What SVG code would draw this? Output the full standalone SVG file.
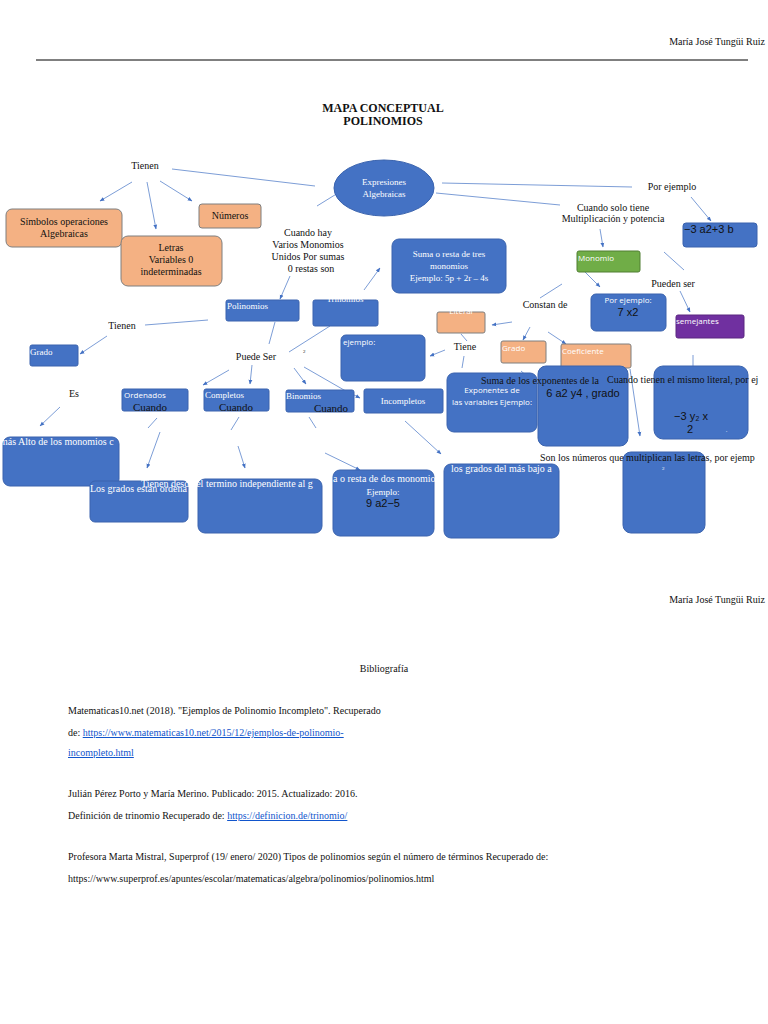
<svg xmlns="http://www.w3.org/2000/svg" width="768" height="1024" viewBox="0 0 768 1024">
<style>
text{font-family:"Liberation Serif",serif;font-size:10px;fill:#111}
.w{fill:#fff;font-size:9px}
.ws{fill:#fff;font-family:"Open Sans","DejaVu Sans",sans-serif;font-size:8px}
.k{font-family:"Liberation Sans",sans-serif;font-size:11px;fill:#111}
.t{font-weight:bold;font-size:12px}
.cu{font-size:11px}
.tiny{font-size:5px}
.b{fill:#4472C4;stroke:#3A63AE;stroke-width:1}
.o{fill:#F4B183;stroke:#7F7F7F;stroke-width:1}
.c line,.c path{stroke:#5B84CC;stroke-width:0.8;fill:none}
.a{marker-end:url(#ar)}
.lk{fill:#1155CC;text-decoration:underline}
.ov{fill:#fff;font-size:10px}
</style>
<defs><marker id="ar" viewBox="0 0 10 10" refX="9" refY="5" markerWidth="6" markerHeight="6" orient="auto"><path d="M0,1L10,5L0,9z" fill="#4472C4"/></marker></defs>
<rect width="768" height="1024" fill="#fff"/>
<text x="765" y="45" text-anchor="end">María José Tungüi Ruiz</text>
<line x1="36" y1="60" x2="748" y2="60" stroke="#000" stroke-width="1"/>
<text x="383" y="112" text-anchor="middle" class="t">MAPA CONCEPTUAL</text>
<text x="383" y="125" text-anchor="middle" class="t">POLINOMIOS</text>

<g class="c">
<line x1="172" y1="169" x2="315" y2="186"/>
<line x1="132" y1="182" x2="100" y2="201" class="a"/>
<line x1="147" y1="182" x2="156" y2="229" class="a"/>
<line x1="160" y1="181" x2="192" y2="201" class="a"/>
<line x1="338" y1="193" x2="317" y2="206"/>
<line x1="442" y1="183" x2="632" y2="187"/>
<line x1="436" y1="193" x2="560" y2="205"/>
<line x1="691" y1="197" x2="711" y2="221" class="a"/>
<line x1="600" y1="229" x2="603" y2="247" class="a"/>
<line x1="664" y1="252" x2="684" y2="270"/>
<line x1="680" y1="291" x2="690" y2="312" class="a"/>
<line x1="585" y1="272" x2="600" y2="287" class="a"/>
<line x1="562" y1="284" x2="540" y2="298"/>
<line x1="512" y1="322" x2="492" y2="325" class="a"/>
<line x1="530" y1="327" x2="523" y2="340" class="a"/>
<line x1="548" y1="332" x2="566" y2="344" class="a"/>
<line x1="461" y1="334" x2="467" y2="341"/>
<line x1="464" y1="356" x2="462" y2="368"/>
<line x1="445" y1="350" x2="430" y2="356" class="a"/>
<line x1="521" y1="371" x2="528" y2="377"/>
<line x1="630" y1="369" x2="640" y2="436" class="a"/>
<line x1="693" y1="355" x2="693" y2="366"/>
<line x1="290" y1="276" x2="280" y2="299" class="a"/>
<line x1="364" y1="290" x2="380" y2="268" class="a"/>
<line x1="330" y1="326" x2="289" y2="352"/>
<line x1="275" y1="322" x2="269" y2="344"/>
<line x1="145" y1="325" x2="208" y2="320"/>
<line x1="107" y1="336" x2="80" y2="354" class="a"/>
<line x1="229" y1="370" x2="203" y2="385" class="a"/>
<line x1="252" y1="365" x2="250" y2="384" class="a"/>
<line x1="294" y1="368" x2="306" y2="384" class="a"/>
<line x1="304" y1="367" x2="344" y2="390"/>
<line x1="344" y1="390" x2="360" y2="398" class="a"/>
<line x1="60" y1="407" x2="40" y2="426" class="a"/>
<line x1="157" y1="418" x2="148" y2="428"/>
<line x1="160" y1="432" x2="147" y2="468" class="a"/>
<line x1="239" y1="417" x2="231" y2="430"/>
<line x1="238" y1="446" x2="245" y2="468" class="a"/>
<line x1="309" y1="417" x2="316" y2="428"/>
<line x1="325" y1="453" x2="360" y2="470" class="a"/>
<line x1="405" y1="421" x2="441" y2="454" class="a"/>
</g>

<g id="expresiones"><ellipse cx="384" cy="188" rx="50" ry="28" class="b"/><text x="384" y="185" text-anchor="middle" class="w">Expresiones</text><text x="384" y="197" text-anchor="middle" class="w">Algebraicas</text></g>
<g id="tienen1"><text x="145" y="169" text-anchor="middle">Tienen</text></g>
<g id="simbolos"><rect x="6" y="209" width="116" height="38" rx="6" class="o"/><text x="64" y="225" text-anchor="middle">Símbolos operaciones</text><text x="64" y="237" text-anchor="middle">Algebraicas</text></g>
<g id="letras"><rect x="121" y="236" width="101" height="50" rx="7" class="o"/><text x="171" y="251" text-anchor="middle">Letras</text><text x="171" y="263" text-anchor="middle">Variables 0</text><text x="171" y="275" text-anchor="middle">indeterminadas</text></g>
<g id="numeros"><rect x="199" y="204" width="62" height="24" rx="3" class="o"/><text x="230" y="219" text-anchor="middle">Números</text></g>
<g id="cuandohay"><text x="308" y="236" text-anchor="middle">Cuando hay</text><text x="308" y="248" text-anchor="middle">Varios Monomios</text><text x="308" y="260" text-anchor="middle">Unidos Por sumas</text><text x="311" y="272" text-anchor="middle">0 restas son</text></g>
<g id="sumatres"><rect x="392" y="239" width="114" height="54" rx="7" class="b"/><text x="449" y="257" text-anchor="middle" class="w">Suma o resta de tres</text><text x="449" y="269" text-anchor="middle" class="w">monomios</text><text x="449" y="281" text-anchor="middle" class="w">Ejemplo: 5p + 2r – 4s</text></g>
<g id="porejemplo"><text x="672" y="190" text-anchor="middle">Por ejemplo</text></g>
<g id="cuandosolo"><text x="613" y="211" text-anchor="middle">Cuando solo tiene</text><text x="613" y="222" text-anchor="middle">Multiplicación y potencia</text></g>
<g id="ej1"><rect x="683" y="223" width="74" height="24" rx="3" class="b"/><text x="684" y="233" class="k">−3 a2+3 b</text></g>
<g id="monomio"><rect x="577" y="251" width="63" height="21" rx="2" fill="#70AD47" stroke="#507E32"/><text x="578" y="261" class="ws">Monomio</text></g>
<g id="puedenser"><text x="673" y="287" text-anchor="middle">Pueden ser</text></g>
<g id="ej7x2"><rect x="591" y="294" width="75" height="37" rx="5" class="b"/><text x="628" y="303" text-anchor="middle" class="ws">Por ejemplo:</text><text x="628" y="316" text-anchor="middle" class="k">7 x2</text></g>
<g id="semejantes"><rect x="676" y="315" width="68" height="23" rx="2" fill="#7030A0" stroke="#5A2680"/><text x="676" y="324" class="ws">semejantes</text></g>
<g id="constan"><text x="545" y="308" text-anchor="middle">Constan de</text></g>
<g id="literal"><rect x="437" y="312" width="48" height="21" rx="2" class="o"/><text x="461" y="314" text-anchor="middle" class="ws">Literal</text></g>
<g id="polinomios"><rect x="226" y="300" width="73" height="21" rx="2" class="b"/><text x="227" y="309" class="w">Polinomios</text></g>
<g id="trinomios"><rect x="313" y="300" width="65" height="26" rx="2" class="b"/><text x="345" y="302" text-anchor="middle" class="w">Trinomios</text></g>
<g id="tienen2"><text x="122" y="329" text-anchor="middle">Tienen</text></g>
<g id="grado1"><rect x="30" y="345" width="48" height="21" rx="2" class="b"/><text x="30" y="355" class="w">Grado</text></g>
<g id="ejemplotri"><rect x="341" y="335" width="84" height="46" rx="5" class="b"/><text x="343" y="345" class="ws">ejemplo:</text></g>
<g id="puedeser"><text x="256" y="360" text-anchor="middle">Puede Ser</text><text x="303" y="353" class="tiny">2</text></g>
<g id="tiene"><text x="465" y="350" text-anchor="middle">Tiene</text></g>
<g id="grado2"><rect x="501" y="341" width="45" height="22" rx="2" class="o"/><text x="502" y="351" class="ws">Grado</text></g>
<g id="coeficiente"><rect x="561" y="344" width="70" height="24" rx="2" class="o"/><text x="562" y="354" class="ws">Coeficiente</text></g>
<g id="exponentes"><rect x="447" y="373" width="90" height="59" rx="7" class="b"/><text x="492" y="393" text-anchor="middle" class="ws">Exponentes de</text><text x="492" y="405" text-anchor="middle" class="ws">las variables Ejemplo:</text></g>
<g id="ej6a2"><rect x="538" y="366" width="90" height="80" rx="8" class="b"/><text x="583" y="397" text-anchor="middle" class="k">6 a2  y4 , grado</text></g>
<g id="mismoliteral"><rect x="654" y="366" width="94" height="73" rx="9" class="b"/><text x="691" y="420" text-anchor="middle" class="k">−3  y₂ x</text><text x="690" y="433" text-anchor="middle" class="k">2</text><text x="726" y="431" class="tiny" style="fill:#fff">,</text></g>
<g id="es"><text x="74" y="397" text-anchor="middle">Es</text></g>
<g id="ordenados"><rect x="122" y="389" width="66" height="22" rx="2" class="b"/><text x="124" y="398" class="ws">Ordenados</text><text x="150" y="411" text-anchor="middle" class="cu">Cuando</text></g>
<g id="completos"><rect x="204" y="389" width="65" height="22" rx="2" class="b"/><text x="205" y="398" class="w">Completos</text><text x="236" y="411" text-anchor="middle" class="cu">Cuando</text></g>
<g id="binomios"><rect x="286" y="390" width="68" height="22" rx="2" class="b"/><text x="286" y="399" class="w">Binomios</text><text x="331" y="412" text-anchor="middle" class="cu">Cuando</text></g>
<g id="incompletos"><rect x="364" y="389" width="79" height="24" rx="2" class="b"/><text x="403" y="404" text-anchor="middle" class="w">Incompletos</text></g>
<g id="gradoalto"><rect x="3" y="437" width="116" height="49" rx="7" class="b"/></g>
<g id="losgrados"><rect x="90" y="481" width="98" height="41" rx="5" class="b"/></g>
<g id="termino"><rect x="198" y="479" width="124" height="54" rx="7" class="b"/></g>
<g id="binej"><rect x="333" y="470" width="101" height="66" rx="7" class="b"/><text x="383" y="495" text-anchor="middle" class="w">Ejemplo:</text><text x="383" y="507" text-anchor="middle" class="k">9 a2−5</text></g>
<g id="incej"><rect x="444" y="464" width="115" height="74" rx="7" class="b"/></g>
<g id="coefej"><rect x="623" y="452" width="82" height="81" rx="8" class="b"/><text x="662" y="470" class="tiny" style="fill:#fff">2</text></g>

<g id="overflow">
<text x="481" y="384">Suma de los exponentes de la</text>
<text x="607" y="383">Cuando tienen el mismo literal, por ej</text>
<text x="540" y="461">Son los números que multiplican las letras, por ejemp</text>
<text x="0" y="445" class="ov">más Alto de los monomios c</text>
<text x="90" y="492" class="ov">Los grados están ordena</text>
<text x="141" y="487" class="ov">Tienen desde el termino independiente al g</text>
<text x="333" y="482" class="ov">a o resta de dos monomios</text>
<text x="451" y="472" class="ov">los grados del más bajo a</text>
</g>

<text x="765" y="603" text-anchor="end">María José Tungüi Ruiz</text>
<text x="384" y="672" text-anchor="middle">Bibliografía</text>
<text x="68" y="714">Matematicas10.net (2018). "Ejemplos de Polinomio Incompleto". Recuperado</text>
<text x="68" y="736">de: <tspan class="lk">https://www.matematicas10.net/2015/12/ejemplos-de-polinomio-</tspan></text>
<text x="68" y="756" class="lk">incompleto.html</text>
<text x="68" y="797">Julián Pérez Porto y María Merino. Publicado: 2015. Actualizado: 2016.</text>
<text x="68" y="819">Definición de trinomio Recuperado de:  <tspan class="lk">https://definicion.de/trinomio/</tspan></text>
<text x="68" y="860">Profesora Marta Mistral, Superprof (19/ enero/ 2020) Tipos de polinomios según el número de términos Recuperado de:</text>
<text x="68" y="882">https://www.superprof.es/apuntes/escolar/matematicas/algebra/polinomios/polinomios.html</text>
</svg>
